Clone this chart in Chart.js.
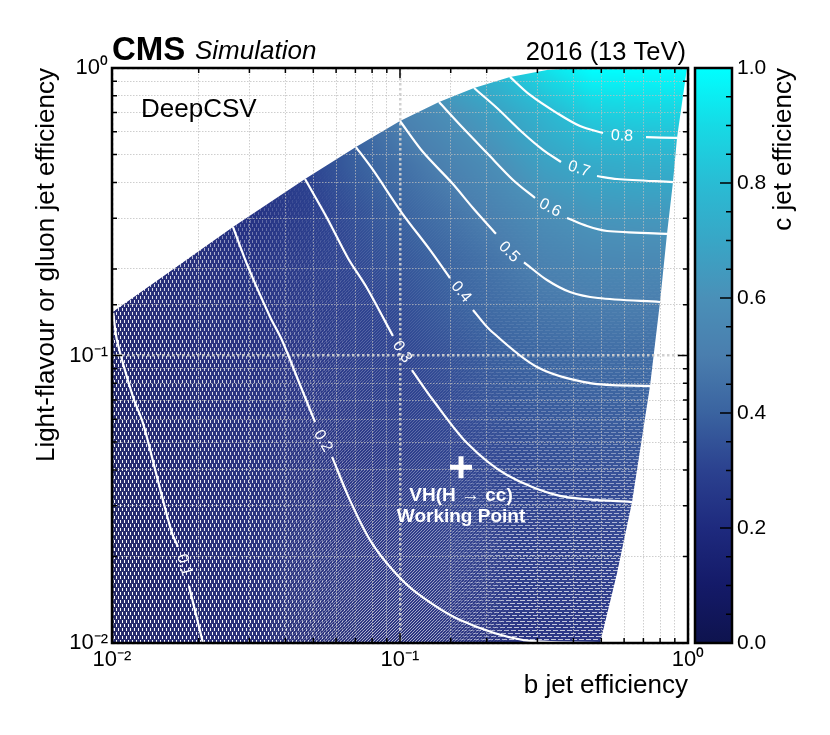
<!DOCTYPE html>
<html lang="en">
<head>
<meta charset="UTF-8">
<title>DeepCSV c jet efficiency</title>
<script src="https://cdn.jsdelivr.net/npm/chart.js@4"></script>
<style>
  body { margin: 0; background: #fff; }
  #wrap { position: relative; width: 830px; height: 735px; }
  canvas { position: absolute; left: 0; top: 0; }
</style>
</head>
<body>
<div id="wrap">
  <canvas id="chart" width="830" height="735"></canvas>
  <canvas id="bar" width="830" height="735"></canvas>
</div>
<script>
// contours (null = gap for the label)
const c01X = [0.0101, 0.0104, 0.01183, 0.01281, 0.01433, 0.01503, 0.01616, 0.01695, null, 0.0185, 0.0207];
const c01Y = [0.1406, 0.1132, 0.0717, 0.0582, 0.0378, 0.0314, 0.0241, 0.0216, null, 0.0158, 0.01];
const c02X = [0.0263, 0.0297, 0.0354, 0.0389, 0.0457, 0.0507, null, 0.0581, 0.067, 0.0787, 0.0945, 0.1146, 0.1616, 0.2674, 0.495];
const c02Y = [0.28, 0.203, 0.1361, 0.1132, 0.0759, 0.0587, null, 0.0444, 0.0314, 0.0228, 0.0179, 0.0149, 0.01202, 0.01024, 0.01];
const c03X = [0.0468, 0.0558, 0.066, 0.0768, 0.0945, null, 0.11, 0.1302, 0.1709, 0.2352, 0.3594, 0.639];
const c03Y = [0.411, 0.301, 0.218, 0.1717, 0.1169, null, 0.089, 0.07, 0.0496, 0.0384, 0.0325, 0.0309];
const c04X = [0.0703, 0.0806, 0.1016, 0.1271, 0.1491, null, 0.1792, 0.2054, 0.299, 0.457, 0.738];
const c04Y = [0.531, 0.442, 0.313, 0.233, 0.186, null, 0.144, 0.1227, 0.0912, 0.0802, 0.0783];
const c05X = [0.1, 0.1202, 0.1516, 0.1792, 0.2154, null, 0.2695, 0.3238, 0.3892, 0.487, 0.7995];
const c05Y = [0.654, 0.51, 0.398, 0.326, 0.265, null, 0.211, 0.183, 0.1663, 0.1585, 0.1535];
const c06X = [0.1366, 0.1655, 0.2005, 0.2469, 0.2943, null, 0.3802, 0.4461, 0.5235, 0.8455];
const c06Y = [0.761, 0.618, 0.506, 0.408, 0.353, null, 0.301, 0.282, 0.271, 0.265];
const c07X = [0.1807, 0.2172, 0.2674, 0.3136, 0.3623, null, 0.4831, 0.5669, 0.887];
const c07Y = [0.852, 0.726, 0.594, 0.519, 0.471, null, 0.421, 0.411, 0.401];
const c08X = [0.241, 0.2828, 0.3509, 0.4217, 0.5069, null, 0.7149, 0.9158];
const c08Y = [0.931, 0.806, 0.697, 0.628, 0.594, null, 0.575, 0.571];

// contour labels
const labelTexts = ['0.1', '0.2', '0.3', '0.4', '0.5', '0.6', '0.7', '0.8'];
const labelX = [0.0178, 0.054, 0.1016, 0.1629, 0.2391, 0.3318, 0.4183, 0.59];
const labelY = [0.01867, 0.0504, 0.1029, 0.1663, 0.229, 0.326, 0.445, 0.58];
const labelAngle = [75, 60, 58, 50, 45, 28, 18, 2];

// edge of the filled region
const edgeX = [0.01, 0.0263, 0.0468, 0.0703, 0.1, 0.1366, 0.1807, 0.241, 0.3238, 0.4118, 0.992, 0.9158, 0.887, 0.8455, 0.7995, 0.738, 0.639, 0.5669, 0.495, 0.01];
const edgeY = [0.141, 0.28, 0.411, 0.531, 0.654, 0.761, 0.852, 0.931, 0.984, 1, 1, 0.571, 0.401, 0.265, 0.1535, 0.0783, 0.0309, 0.0175, 0.01, 0.01];

// working point
const wpX = [0.1629];
const wpY = [0.0409];

// c jet efficiency on a log grid, bottom row first
const gridNodes = [0.01, 0.0147, 0.0215, 0.0316, 0.0464, 0.0681, 0.1, 0.147, 0.215, 0.316, 0.464, 0.681, 1];
const cEff = [
  [.05, .08, .103, .115, .125, .14, .15, .16, .17, .185, .198, .21, .22],
  [.05, .085, .11, .14, .165, .18, .195, .21, .225, .232, .236, .238, .24],
  [.05, .085, .125, .155, .175, .19, .215, .236, .252, .26, .266, .27, .27],
  [.06, .098, .13, .155, .175, .202, .24, .265, .285, .296, .302, .305, .305],
  [.065, .107, .14, .17, .187, .21, .25, .283, .312, .333, .341, .345, .345],
  [.07, .115, .15, .175, .204, .24, .275, .31, .35, .372, .383, .388, .388],
  [.08, .124, .153, .181, .215, .26, .3, .34, .385, .415, .433, .436, .44],
  [.09, .13, .165, .19, .235, .275, .325, .38, .43, .468, .49, .495, .495],
  [.1, .13, .17, .21, .255, .31, .36, .41, .465, .526, .556, .562, .565],
  [.1, .14, .18, .22, .27, .335, .4, .46, .525, .59, .633, .642, .645],
  [.1, .15, .2, .25, .3, .385, .45, .523, .59, .675, .72, .74, .745],
  [.1, .15, .2, .25, .3, .4, .52, .59, .67, .76, .85, .865, .87],
  [.1, .15, .2, .25, .3, .4, .55, .72, .8, .92, 1, 1, 1]
];

// how strongly the white scan mesh shows through, bottom row first
const meshNodes = [0.01, 0.0215, 0.0464, 0.1, 0.215, 0.464, 1];
const meshAmount = [
  [1, 1, .95, .9, .75, .75, .7],
  [1, .95, .85, .7, .7, .7, .7],
  [.95, .9, .7, .4, .35, .4, .45],
  [.95, .85, .55, .2, .15, .1, .1],
  [.9, .7, .3, .1, .02, 0, 0],
  [.1, .02, 0, 0, 0, 0, 0],
  [0, 0, 0, 0, 0, 0, 0]
];

// colour map of the bar
const cmapLevels = [0, 0.1, 0.2, 0.3, 0.4, 0.5, 0.6, 0.7, 0.8, 0.9, 1];
const cmapColors = [[14, 19, 78], [20, 26, 104], [30, 42, 126], [43, 65, 143], [58, 99, 160], [74, 126, 174], [74, 144, 184], [56, 166, 198], [41, 188, 212], [22, 218, 229], [0, 255, 255]];

const barTicksMajor = 0.2;

function cmap(v) {
  let i = 0;
  while (i < cmapLevels.length - 2 && v > cmapLevels[i + 1]) i++;
  const t = Math.min(1, Math.max(0, (v - cmapLevels[i]) / (cmapLevels[i + 1] - cmapLevels[i])));
  const a = cmapColors[i], b = cmapColors[i + 1];
  return [a[0] + (b[0] - a[0]) * t, a[1] + (b[1] - a[1]) * t, a[2] + (b[2] - a[2]) * t];
}

function lookup(nodes, v) {
  let i = 0;
  while (i < nodes.length - 2 && v > nodes[i + 1]) i++;
  const t = (Math.log10(v) - Math.log10(nodes[i])) / (Math.log10(nodes[i + 1]) - Math.log10(nodes[i]));
  return [i, Math.min(1, Math.max(0, t))];
}

function bilinear(table, nodes, xv, yv) {
  const [i, tx] = lookup(nodes, xv);
  const [j, ty] = lookup(nodes, yv);
  const top = table[j + 1][i] * (1 - tx) + table[j + 1][i + 1] * tx;
  const bot = table[j][i] * (1 - tx) + table[j][i + 1] * tx;
  return bot * (1 - ty) + top * ty;
}

const ramp = (v, a, b) => Math.min(1, Math.max(0, (v - a) / (b - a)));

// white gaps between the scan points: dots on the left, fine diagonals in the
// middle, flat dashes on the right, faded into each other, over a light haze
function meshPattern(px, py, xv) {
  const t = Math.log10(xv);
  const up = ramp(t, -1.5, -1.1), up2 = ramp(t, -0.9, -0.6);
  const row = Math.floor(py / 4);
  const dots = (px + (row % 2) * 2) % 4 === 0 && py % 4 < 3 ? 1 : 0;
  const diag = (px + py) % 3 === 0 ? 0.65 : 0;
  const dash = py % 3 === 0 && (px + Math.floor(py / 3) * 3) % 7 < 5 ? 0.9 : 0;
  return Math.min(1, 0.09 + dots * (1 - up) + diag * up * (1 - up2) + dash * up2);
}

const isDecade = v => Math.abs(Math.log10(v) - Math.round(Math.log10(v))) < 1e-6;
const supers = { '-2': '10⁻²', '-1': '10⁻¹', '0': '10⁰' };
const decadeLabel = v => isDecade(v) ? supers[Math.round(Math.log10(v))] : '';

const fieldPlugin = {
  id: 'field',
  beforeDraw(chart) {
    const { ctx, chartArea: a, scales: { x, y } } = chart;
    const w = Math.round(a.right - a.left), h = Math.round(a.bottom - a.top);
    const off = document.createElement('canvas');
    off.width = w; off.height = h;
    const octx = off.getContext('2d');
    const img = octx.createImageData(w, h);
    for (let j = 0; j < h; j++) {
      const yv = y.getValueForPixel(a.top + j);
      for (let i = 0; i < w; i++) {
        const xv = x.getValueForPixel(a.left + i);
        const col = cmap(bilinear(cEff, gridNodes, xv, yv));
        const m = meshPattern(a.left + i, a.top + j, xv) * bilinear(meshAmount, meshNodes, xv, yv);
        const k = (j * w + i) * 4;
        img.data[k] = col[0] + (255 - col[0]) * m;
        img.data[k + 1] = col[1] + (255 - col[1]) * m;
        img.data[k + 2] = col[2] + (255 - col[2]) * m;
        img.data[k + 3] = 255;
      }
    }
    octx.putImageData(img, 0, 0);
    ctx.save();
    ctx.beginPath();
    edgeX.forEach((v, i) => {
      const px = x.getPixelForValue(v), py = y.getPixelForValue(edgeY[i]);
      if (i === 0) ctx.moveTo(px, py); else ctx.lineTo(px, py);
    });
    ctx.closePath();
    ctx.clip();
    ctx.drawImage(off, a.left, a.top);
    ctx.restore();
  },
  afterDraw(chart) {
    const { ctx, chartArea: a, scales: { x, y } } = chart;
    ctx.save();
    // contour labels
    ctx.fillStyle = '#fff';
    ctx.font = '16px "Liberation Sans"';
    ctx.textAlign = 'center';
    ctx.textBaseline = 'middle';
    labelTexts.forEach((t, i) => {
      ctx.save();
      ctx.translate(x.getPixelForValue(labelX[i]), y.getPixelForValue(labelY[i]));
      ctx.rotate(labelAngle[i] * Math.PI / 180);
      ctx.fillText(t, 0, 0);
      ctx.restore();
    });
    // working point text
    ctx.font = 'bold 19px "Liberation Sans"';
    ctx.fillText('VH(H → cc)', 461, 496);
    ctx.fillText('Working Point', 461, 517);
    // inward ticks on all four sides
    ctx.strokeStyle = '#000';
    ctx.lineWidth = 1.5;
    ctx.beginPath();
    x.ticks.forEach(t => {
      const px = x.getPixelForValue(t.value), l = isDecade(t.value) ? 10 : 5;
      ctx.moveTo(px, a.bottom); ctx.lineTo(px, a.bottom - l);
      ctx.moveTo(px, a.top); ctx.lineTo(px, a.top + l);
    });
    y.ticks.forEach(t => {
      const py = y.getPixelForValue(t.value), l = isDecade(t.value) ? 10 : 5;
      ctx.moveTo(a.left, py); ctx.lineTo(a.left + l, py);
      ctx.moveTo(a.right, py); ctx.lineTo(a.right - l, py);
    });
    ctx.stroke();
    ctx.lineWidth = 2.5;
    ctx.strokeRect(a.left, a.top, a.right - a.left, a.bottom - a.top);
    // header
    ctx.fillStyle = '#000';
    ctx.textBaseline = 'alphabetic';
    ctx.textAlign = 'left';
    ctx.font = 'bold 33px "Liberation Sans"';
    ctx.fillText('CMS', 112, 60);
    ctx.font = 'italic 26px "Liberation Sans"';
    ctx.fillText('Simulation', 195, 59);
    ctx.font = '26px "Liberation Sans"';
    ctx.fillText('DeepCSV', 141, 117);
    ctx.font = '25.5px "Liberation Sans"';
    ctx.textAlign = 'right';
    ctx.fillText('2016 (13 TeV)', 686, 60);
    ctx.restore();
  }
};

const contourData = [[c01X, c01Y], [c02X, c02Y], [c03X, c03Y], [c04X, c04Y], [c05X, c05Y], [c06X, c06Y], [c07X, c07Y], [c08X, c08Y]];
const datasets = contourData.map(([xs, ys]) => ({
  data: xs.map((v, i) => ({ x: v, y: ys[i] })),
  showLine: true,
  spanGaps: false,
  borderColor: '#fff',
  borderWidth: 2.2,
  tension: 0.3,
  pointRadius: 0
}));
datasets.push({
  data: wpX.map((v, i) => ({ x: v, y: wpY[i] })),
  pointStyle: 'cross',
  pointRadius: 11,
  pointBorderColor: '#fff',
  pointBorderWidth: 5
});

const gridOpts = {
  color: c => isDecade(c.tick.value) ? 'rgba(205,205,205,0.95)' : 'rgba(190,190,190,0.75)',
  lineWidth: c => isDecade(c.tick.value) ? 2.5 : 1,
  drawTicks: false
};
const borderOpts = { display: false, dash: c => isDecade(c.tick.value) ? [2.5, 2.5] : [1.5, 1.5] };
const tickFont = { family: '"Liberation Sans"', size: 22 };

new Chart(document.getElementById('chart'), {
  type: 'scatter',
  data: { datasets },
  plugins: [fieldPlugin],
  options: {
    responsive: false,
    animation: false,
    devicePixelRatio: 1,
    layout: { padding: { left: 0, right: 142, top: 68, bottom: 0 } },
    plugins: { legend: { display: false }, tooltip: { enabled: false } },
    scales: {
      x: {
        type: 'logarithmic', min: 0.01, max: 1,
        afterFit: s => { s.height = 92; },
        grid: gridOpts,
        border: borderOpts,
        ticks: { autoSkip: false, maxRotation: 0, padding: 4, color: '#000', font: tickFont, callback: decadeLabel },
        title: { display: true, text: 'b jet efficiency', align: 'end', color: '#000', font: { family: '"Liberation Sans"', size: 26 }, padding: { top: 0, bottom: 34 } }
      },
      y: {
        type: 'logarithmic', min: 0.01, max: 1,
        afterFit: s => { s.width = 112; },
        grid: gridOpts,
        border: borderOpts,
        ticks: { autoSkip: false, padding: 4, color: '#000', font: tickFont, callback: decadeLabel },
        title: { display: true, text: 'Light-flavour or gluon jet efficiency', align: 'end', color: '#000', font: { family: '"Liberation Sans"', size: 26 }, padding: { top: 31, bottom: 31 } }
      }
    }
  }
});

// colour bar, same window, on its own canvas
const barFrame = {
  id: 'barFrame',
  afterDraw(chart) {
    const { ctx, chartArea: a, scales: { y } } = chart;
    ctx.save();
    ctx.strokeStyle = '#000';
    ctx.lineWidth = 1.5;
    ctx.beginPath();
    y.ticks.forEach(t => {
      const py = y.getPixelForValue(t.value);
      const l = Math.round(t.value * 100) % 20 === 0 ? 12 : 6;
      ctx.moveTo(a.right, py); ctx.lineTo(a.right - l, py);
    });
    ctx.stroke();
    ctx.lineWidth = 2.5;
    ctx.strokeRect(a.left, a.top, a.right - a.left, a.bottom - a.top);
    ctx.fillStyle = '#000';
    ctx.font = '26px "Liberation Sans"';
    ctx.translate(784, a.top);
    ctx.rotate(-Math.PI / 2);
    ctx.textAlign = 'right';
    ctx.textBaseline = 'middle';
    ctx.fillText('c jet efficiency', 0, 0);
    ctx.restore();
  }
};

new Chart(document.getElementById('bar'), {
  type: 'bar',
  data: {
    labels: ['c'],
    datasets: [{
      data: [[0, 1]],
      barPercentage: 1,
      categoryPercentage: 1,
      backgroundColor: c => {
        const a = c.chart.chartArea;
        if (!a) return '#000';
        const g = c.chart.ctx.createLinearGradient(0, a.bottom, 0, a.top);
        cmapLevels.forEach((v, i) => g.addColorStop(v, `rgb(${cmapColors[i].join(',')})`));
        return g;
      }
    }]
  },
  plugins: [barFrame],
  options: {
    responsive: false,
    animation: false,
    devicePixelRatio: 1,
    layout: { padding: { left: 695, right: 0, top: 68, bottom: 92 } },
    plugins: { legend: { display: false }, tooltip: { enabled: false } },
    scales: {
      x: { display: false },
      y: {
        position: 'right', min: 0, max: 1,
        afterFit: s => { s.width = 98; },
        grid: { display: false, drawTicks: false },
        border: { display: false },
        ticks: {
          stepSize: 0.05, autoSkip: false, padding: 5, color: '#000', font: { family: '"Liberation Sans"', size: 21 },
          callback: v => Math.round(v * 100) % (barTicksMajor * 100) === 0 ? v.toFixed(1) : ''
        }
      }
    }
  }
});
</script>
</body>
</html>
